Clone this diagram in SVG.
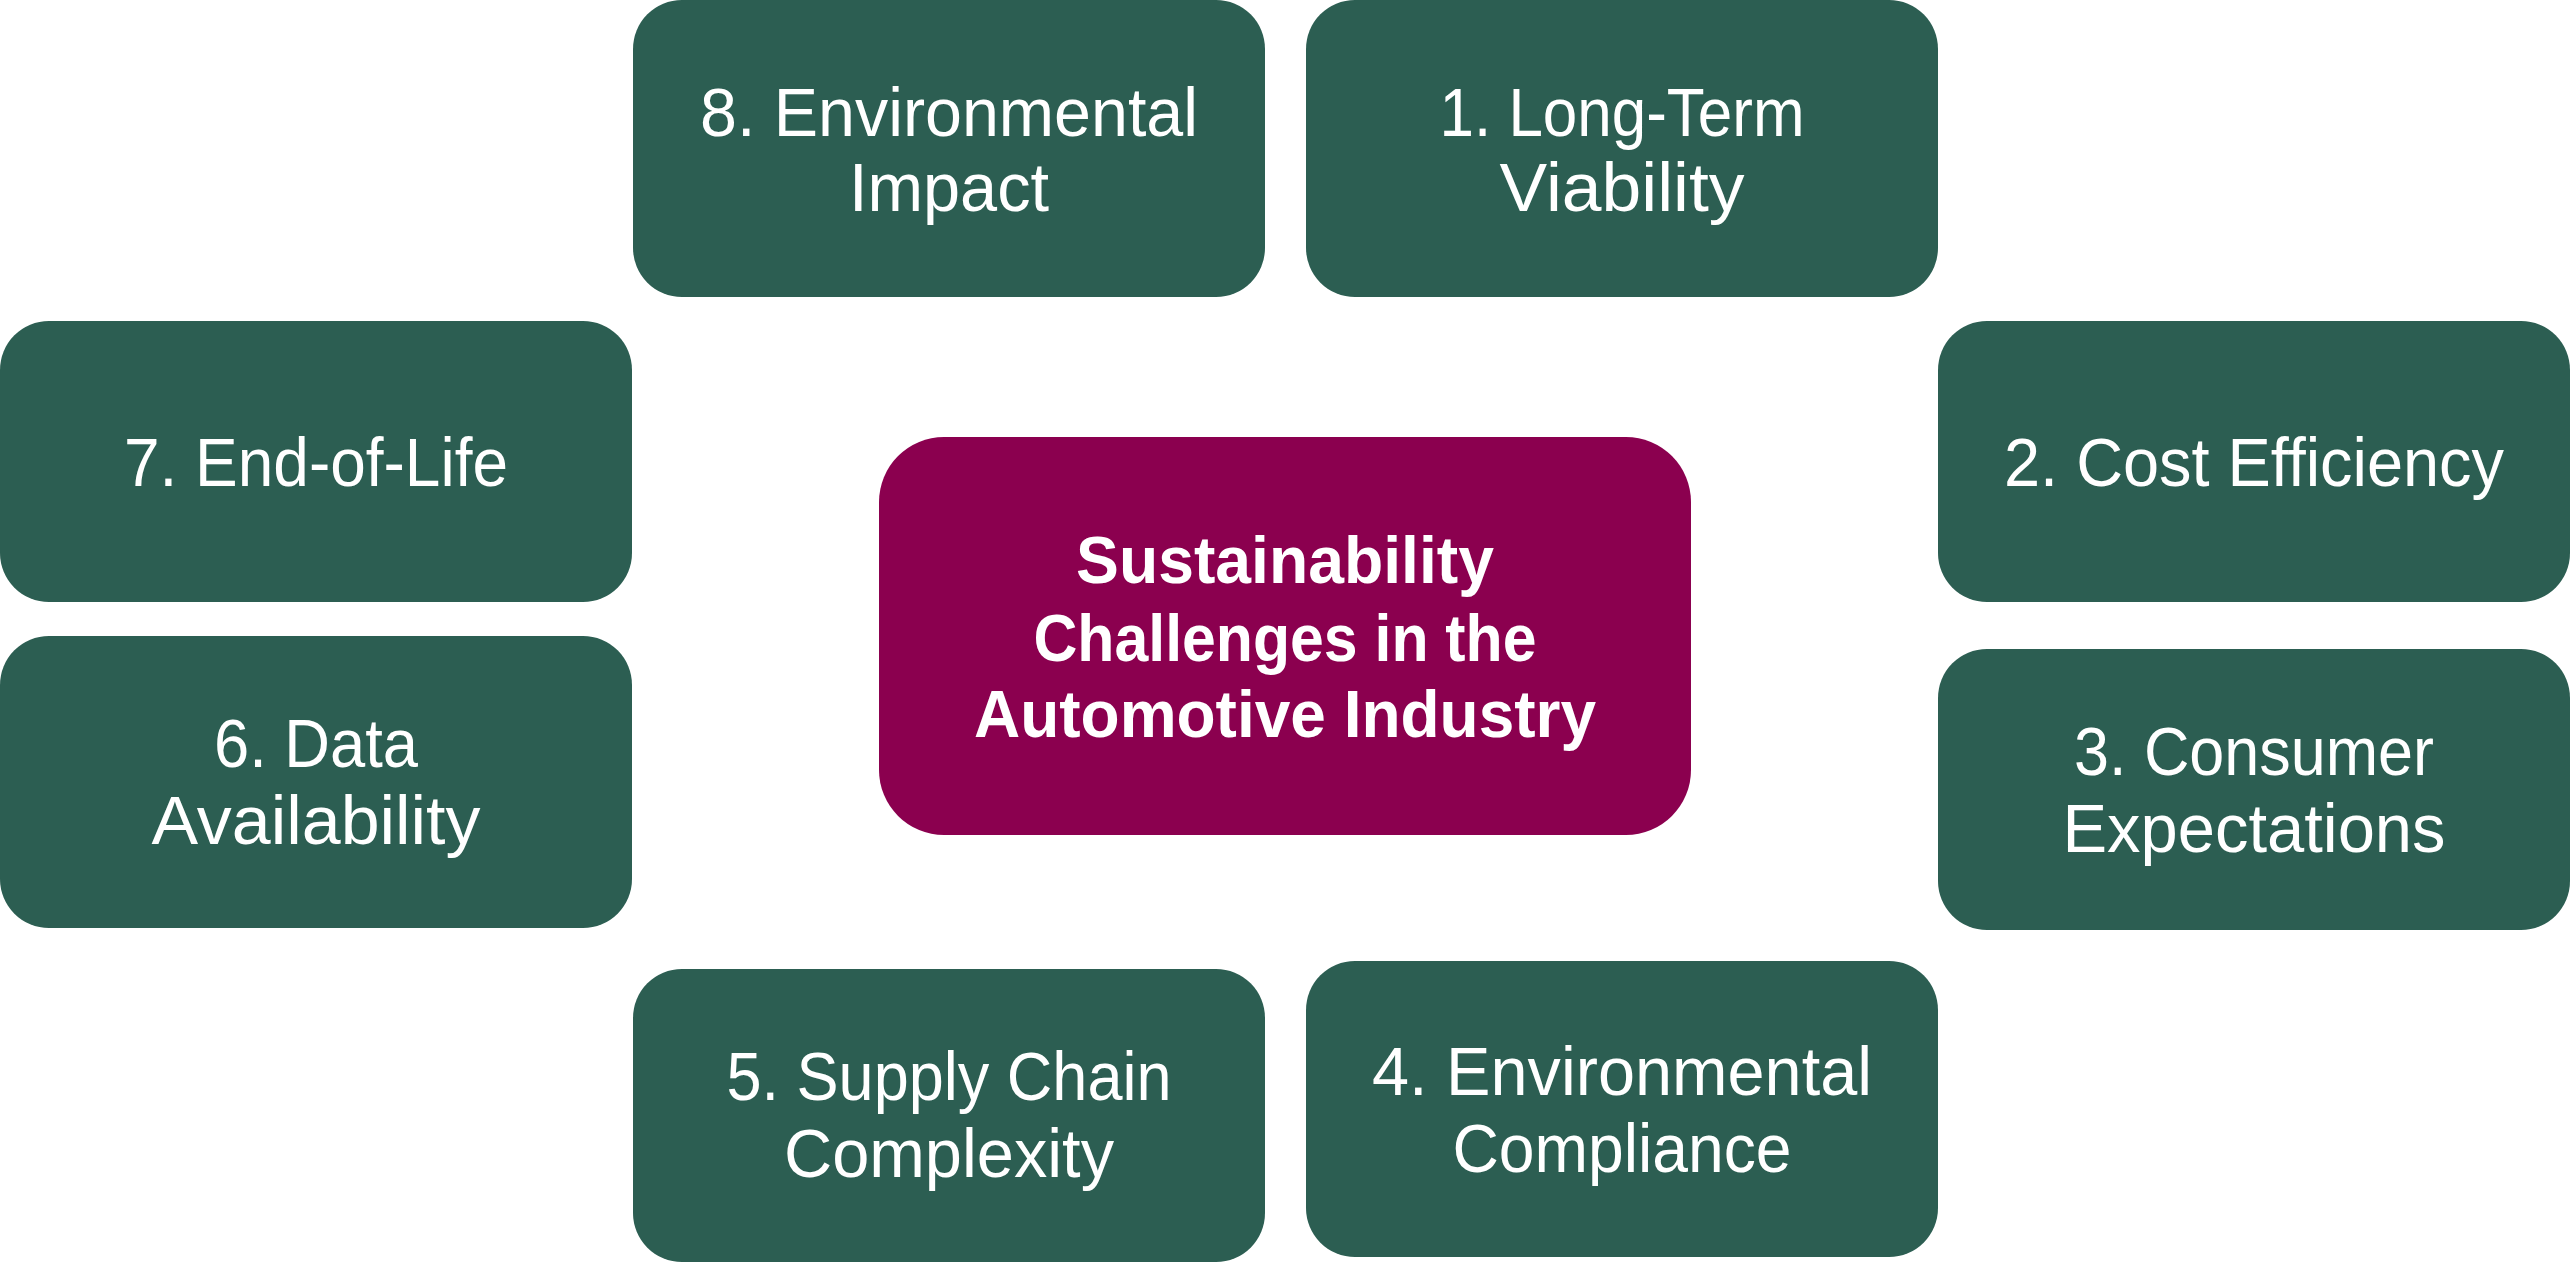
<svg xmlns="http://www.w3.org/2000/svg" width="2570" height="1262" viewBox="0 0 2570 1262">
<style>
.box{fill:#2C5E52}
.hub{fill:#8B004F}
.t{font-family:"Liberation Sans",Arial,sans-serif;font-size:68px;fill:#FFFFFF;text-anchor:middle}
.h{font-family:"Liberation Sans",Arial,sans-serif;font-size:66px;font-weight:bold;fill:#FFFFFF;text-anchor:middle}
</style>
<rect width="2570" height="1262" fill="#FFFFFF"/>
<g id="connectors"></g>
<g id="center">
<rect class="hub" x="879" y="437" width="812" height="398" rx="65" ry="65"/>
<text class="h" x="1285" y="583" textLength="418" lengthAdjust="spacingAndGlyphs">Sustainability</text>
<text class="h" x="1285" y="661" textLength="503" lengthAdjust="spacingAndGlyphs">Challenges in the</text>
<text class="h" x="1285" y="737" textLength="622" lengthAdjust="spacingAndGlyphs">Automotive Industry</text>
</g>
<g id="node1">
<rect class="box" x="1306" y="0" width="632" height="297" rx="49" ry="49"/>
<text class="t" x="1622" y="136" textLength="365" lengthAdjust="spacingAndGlyphs">1. Long-Term</text>
<text class="t" x="1622" y="211" textLength="245" lengthAdjust="spacingAndGlyphs">Viability</text>
</g>
<g id="node2">
<rect class="box" x="1938" y="321" width="632" height="281" rx="49" ry="49"/>
<text class="t" x="2254" y="486" textLength="500" lengthAdjust="spacingAndGlyphs">2. Cost Efficiency</text>
</g>
<g id="node3">
<rect class="box" x="1938" y="649" width="632" height="281" rx="49" ry="49"/>
<text class="t" x="2254" y="775" textLength="360" lengthAdjust="spacingAndGlyphs">3. Consumer</text>
<text class="t" x="2254" y="852" textLength="383" lengthAdjust="spacingAndGlyphs">Expectations</text>
</g>
<g id="node4">
<rect class="box" x="1306" y="961" width="632" height="296" rx="49" ry="49"/>
<text class="t" x="1622" y="1095" textLength="500" lengthAdjust="spacingAndGlyphs">4. Environmental</text>
<text class="t" x="1622" y="1172" textLength="339" lengthAdjust="spacingAndGlyphs">Compliance</text>
</g>
<g id="node5">
<rect class="box" x="633" y="969" width="632" height="293" rx="49" ry="49"/>
<text class="t" x="949" y="1100" textLength="445" lengthAdjust="spacingAndGlyphs">5. Supply Chain</text>
<text class="t" x="949" y="1177" textLength="330" lengthAdjust="spacingAndGlyphs">Complexity</text>
</g>
<g id="node6">
<rect class="box" x="0" y="636" width="632" height="292" rx="49" ry="49"/>
<text class="t" x="316" y="767" textLength="204" lengthAdjust="spacingAndGlyphs">6. Data</text>
<text class="t" x="316" y="844" textLength="329" lengthAdjust="spacingAndGlyphs">Availability</text>
</g>
<g id="node7">
<rect class="box" x="0" y="321" width="632" height="281" rx="49" ry="49"/>
<text class="t" x="316" y="486" textLength="384" lengthAdjust="spacingAndGlyphs">7. End-of-Life</text>
</g>
<g id="node8">
<rect class="box" x="633" y="0" width="632" height="297" rx="49" ry="49"/>
<text class="t" x="949" y="136" textLength="498" lengthAdjust="spacingAndGlyphs">8. Environmental</text>
<text class="t" x="949" y="211" textLength="200" lengthAdjust="spacingAndGlyphs">Impact</text>
</g>
</svg>
